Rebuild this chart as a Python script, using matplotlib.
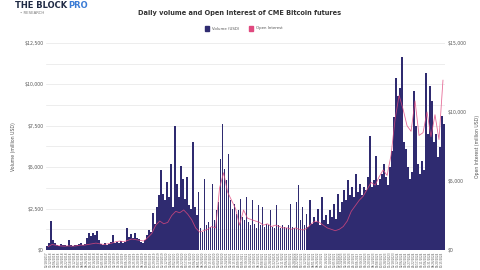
import matplotlib
matplotlib.use("Agg")
import matplotlib.pyplot as plt
import numpy as np
import pandas as pd

# ---- data (million USD) ----
volume = [
    250, 400, 1750, 600, 450, 300, 250, 350, 280, 300,
    250, 600, 300, 250, 320, 280, 350, 450, 300, 350,
    700, 1000, 850, 1050, 900, 1150, 600, 350, 300, 400,
    280, 350, 500, 900, 450, 500, 400, 550, 450, 500,
    1350, 800, 950, 700, 1000, 750, 650, 500, 450, 600,
    900, 1200, 1100, 2250, 1600, 2600, 3300, 4800, 3400, 3000,
    4100, 3200, 5200, 2600, 7500, 4000, 3200, 5100, 4300, 3100,
    4400, 2700, 2500, 6500, 2600, 2100, 3500, 1300, 1100, 4300,
    1500, 1700, 1400, 4000, 1800, 2400, 2900, 5500, 7600, 4900,
    4200, 5800, 3000, 2500, 2800, 2200, 2400, 3100, 2000, 1800,
    3200, 1700, 1500, 3000, 1600, 1300, 2700, 1500, 2600, 1400,
    1600, 1500, 2400, 1400, 1300, 2700, 1500, 1300, 1500, 1400,
    1300, 1500, 2800, 1400, 1300, 2900, 3900, 1800, 2600, 1500,
    2200, 1400, 3000, 1600, 2000, 1700, 2500, 1500, 3200, 1800,
    2100, 1600, 2400, 2000, 2800, 1900, 3400, 2300, 2900, 3600,
    3000, 4200, 3300, 3800, 3200, 4600, 3500, 4000, 3300, 3800,
    3600, 4400, 6900, 3800, 4200, 5700, 3900, 4300, 4600, 5200,
    4400, 3900, 5000, 6000, 8000, 10400, 9300, 9800, 11650, 6500,
    6100, 5000, 4300, 4700, 9600, 7500, 5200, 4600, 5400, 4800,
    10700, 7000, 9900, 9000, 6500, 7000, 5600, 6200, 8100, 7600,
]
open_interest = [
    250, 400, 350, 300, 280, 300, 280, 300, 350, 350,
    400, 450, 500, 450, 400, 450, 500, 600, 650, 600,
    700, 800, 750, 700, 650, 900, 1200, 1800, 2100, 1900,
    2000, 2500, 2800, 2700, 2900, 2600, 2200, 1600, 1300, 1400,
    1500, 1700, 1600, 4500, 5600, 4200, 3600, 3000, 1800, 2900,
    2300, 2200, 2100, 2000, 1800, 1900, 1700, 1800, 1700, 1600,
    1600, 1500, 1600, 1500, 1450, 1600, 1900, 2100, 2000, 1800,
    1600, 1500, 1400, 1500, 1700, 2100, 2800, 3200, 3600, 3900,
    4400, 4900, 4700, 5300, 5800, 5400, 6900, 9500, 11200, 10200,
    9000, 8600, 10800, 8300, 8500, 10000, 8200, 9800, 8000, 12300,
]
start_date = "2017-12-18"
end_date = "2024-10-28"
dates = pd.date_range(start_date, end_date, periods=len(volume))
date_labels = [d.strftime("%m/%d/%Y") for d in dates]
oi_pos = np.arange(len(open_interest)) * 2 + 0.5

left_ticks = [0, 2500, 5000, 7500, 10000, 12500]
left_labels = ["$0", "$2,500", "$5,000", "$7,500", "$10,000", "$12,500"]
right_ticks = [0, 5000, 10000, 15000]
right_labels = ["$0", "$5,000", "$10,000", "$15,000"]

BAR = "#2f2b70"
OI = "#e0497f"
TXT = "#555555"

fig = plt.figure(figsize=(4.8, 2.7), dpi=100)
ax = fig.add_axes([0.096, 0.074, 0.831, 0.767])
pos = np.arange(len(volume))
ax.bar(pos, volume, width=0.85, color=BAR, edgecolor="none", zorder=2)
ax.set_xlim(-0.5, len(volume) - 0.5)
ax.set_ylim(0, 12500)
ax.set_yticks(left_ticks)
ax.set_yticklabels(left_labels)
ax.set_yticks(np.arange(0, 12501, 1250), minor=True)
ax.grid(axis="y", which="both", color="#e6e6e6", linewidth=0.5, zorder=0)
ax.tick_params(axis="y", which="both", length=0, labelsize=3.3, labelcolor=TXT, pad=2)
ax.set_xticks(pos[::2])
ax.set_xticklabels(date_labels[::2], rotation=90, fontsize=2.0, color=TXT)
ax.tick_params(axis="x", length=0, pad=1)
for s in ax.spines.values():
    s.set_visible(False)
ax.set_ylabel("Volume (million USD)", fontsize=3.3, color=TXT, labelpad=6)

ax2 = ax.twinx()
ax2.plot(oi_pos, open_interest, color=OI, linewidth=0.6, alpha=0.8, zorder=3)
ax2.set_ylim(0, 15000)
ax2.set_yticks(right_ticks)
ax2.set_yticklabels(right_labels)
ax2.tick_params(axis="y", length=0, labelsize=3.3, labelcolor=TXT, pad=2)
for s in ax2.spines.values():
    s.set_visible(False)
ax2.set_ylabel("Open Interest (million USD)", fontsize=3.3, color=TXT, labelpad=6)

fig.text(0.5, 1 - 13 / 270, "Daily volume and Open Interest of CME Bitcoin futures",
         ha="center", va="center", fontsize=4.8, fontweight="bold", color="#333333")
# legend
fig.patches.append(plt.Rectangle((205 / 480, 1 - 30.5 / 270), 4 / 480, 4 / 270,
                                 transform=fig.transFigure, color=BAR))
fig.text(212 / 480, 1 - 28.5 / 270, "Volume (USD)", fontsize=2.8, color=TXT, va="center")
fig.patches.append(plt.Rectangle((249 / 480, 1 - 30.5 / 270), 4 / 480, 4 / 270,
                                 transform=fig.transFigure, color=OI))
fig.text(256 / 480, 1 - 28.5 / 270, "Open Interest", fontsize=2.8, color=TXT, va="center")

# brand
fig.text(15 / 480, 1 - 0.5 / 270, "THE BLOCK", fontsize=6, fontweight="bold",
         color="#1f2a44", va="top", ha="left")
fig.text(68 / 480, 1 - 0.5 / 270, "PRO", fontsize=6, fontweight="bold",
         color="#3a7bd5", va="top", ha="left")
fig.text(20 / 480, 1 - 12.5 / 270, "• RESEARCH", fontsize=2.8, color="#777777", va="center")

fig.savefig("out.png", dpi=100)
